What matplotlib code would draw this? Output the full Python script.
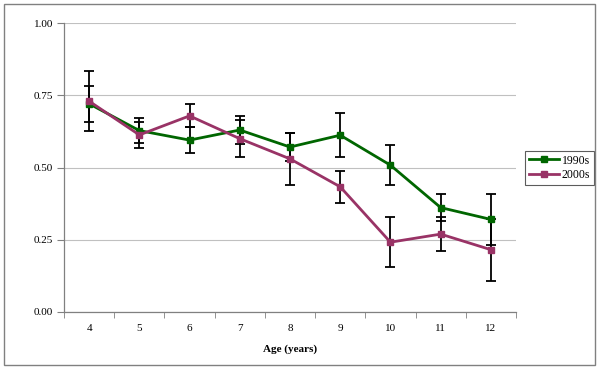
import matplotlib.pyplot as plt
from matplotlib.patches import Rectangle

plt.rcParams['font.family'] = ['Liberation Serif', 'DejaVu Serif']

ages = ['4', '5', '6', '7', '8', '9', '10', '11', '12']
v1990 = [0.721, 0.628, 0.595, 0.630, 0.571, 0.612, 0.508, 0.361, 0.320]
e1990 = [0.063, 0.043, 0.046, 0.050, 0.050, 0.076, 0.070, 0.046, 0.087]
v2000 = [0.730, 0.613, 0.679, 0.600, 0.530, 0.433, 0.241, 0.269, 0.215]
e2000 = [0.104, 0.046, 0.040, 0.064, 0.090, 0.055, 0.086, 0.060, 0.108]

green = '#006600'
plum = '#993366'

fig = plt.figure(figsize=(6, 3.75), dpi=100)
ax = fig.add_axes([64/600, 1 - 311.7/375, 452/600, 288.4/375])

x = list(range(len(ages)))
ax.errorbar(x, v1990, yerr=e1990, fmt='none', ecolor='black', elinewidth=1.3,
            capsize=3.6, capthick=1.3, zorder=2)
ax.errorbar(x, v2000, yerr=e2000, fmt='none', ecolor='black', elinewidth=1.3,
            capsize=3.6, capthick=1.3, zorder=2)
ax.plot(x, v1990, '-s', color=green, lw=2, ms=4.5, label='1990s', zorder=3)
ax.plot(x, v2000, '-s', color=plum, lw=2, ms=4.5, label='2000s', zorder=4)

ax.set_xlim(-0.5, len(ages) - 0.5)
ax.set_ylim(0, 1.0)
ax.set_yticks([0, 0.25, 0.5, 0.75, 1.0])
ax.set_yticklabels(['0.00', '0.25', '0.50', '0.75', '1.00'], fontsize=8)
ax.set_xticks(x)
ax.set_xticklabels(ages, fontsize=8)
ax.set_xticks([i - 0.5 for i in range(len(ages) + 1)], minor=True)
ax.tick_params(axis='x', which='major', length=0, pad=9)
ax.tick_params(axis='x', which='minor', length=4, color='#808080', direction='out')
ax.tick_params(axis='y', length=5, color='#808080', direction='out', pad=3)
ax.grid(axis='y', color='#c0c0c0', lw=0.8)
ax.set_axisbelow(True)
for s in ['top', 'right']:
    ax.spines[s].set_visible(False)
for s in ['left', 'bottom']:
    ax.spines[s].set_color('#808080')
    ax.spines[s].set_linewidth(0.9)
ax.set_xlabel('Age (years)', fontsize=8, fontweight='bold', labelpad=8)

leg = ax.legend(loc='upper left', bbox_to_anchor=(525/600, 1 - 151/375),
                bbox_transform=fig.transFigure, fontsize=8.5, frameon=True,
                fancybox=False, edgecolor='#333333', borderpad=0.3,
                borderaxespad=0, handlelength=2.6, handletextpad=0.2,
                labelspacing=0.25)
leg.get_frame().set_linewidth(0.8)

fig.patches.append(Rectangle((4/600, 1 - 365/375), 591/600, 361/375,
                             transform=fig.transFigure, fill=False,
                             edgecolor='#808080', lw=1))

fig.savefig('out.png', dpi=100)
